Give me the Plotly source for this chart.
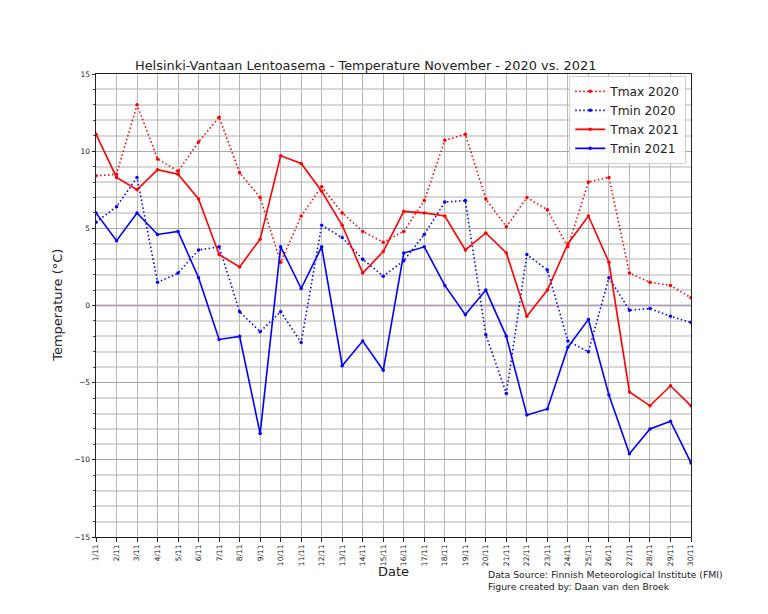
import plotly.graph_objects as go

dates = [f"{d}/11" for d in range(1, 31)]

tmax_2020 = [8.4, 8.5, 13.0, 9.5, 8.7, 10.6, 12.2, 8.6, 7.0, 2.8,
             5.8, 7.7, 6.0, 4.8, 4.1, 4.8, 6.8, 10.7, 11.1, 6.9,
             5.1, 7.0, 6.2, 3.8, 8.0, 8.3, 2.1, 1.5, 1.3, 0.5]
tmin_2020 = [5.4, 6.4, 8.3, 1.5, 2.1, 3.6, 3.8, -0.4, -1.7, -0.4,
             -2.4, 5.2, 4.4, 3.0, 1.9, 2.9, 4.6, 6.7, 6.8, -1.9,
             -5.7, 3.3, 2.3, -2.3, -3.0, 1.8, -0.3, -0.2, -0.7, -1.1]
tmax_2021 = [11.1, 8.3, 7.5, 8.8, 8.5, 6.9, 3.3, 2.5, 4.3, 9.7,
             9.2, 7.4, 5.2, 2.1, 3.5, 6.1, 6.0, 5.8, 3.6, 4.7,
             3.4, -0.7, 1.0, 4.0, 5.8, 2.8, -5.6, -6.5, -5.2, -6.5]
tmin_2021 = [6.0, 4.2, 6.0, 4.6, 4.8, 1.8, -2.2, -2.0, -8.3, 3.8,
             1.1, 3.8, -3.9, -2.3, -4.2, 3.4, 3.8, 1.3, -0.6, 1.0,
             -2.0, -7.1, -6.7, -2.7, -0.9, -5.8, -9.6, -8.0, -7.5, -10.2]

series = [
    ("Tmax 2020", tmax_2020, "red", "1.5px,2.5px"),
    ("Tmin 2020", tmin_2020, "blue", "1.5px,2.5px"),
    ("Tmax 2021", tmax_2021, "red", "solid"),
    ("Tmin 2021", tmin_2021, "blue", "solid"),
]

FONT = "DejaVu Sans"
fig = go.Figure()
for name, vals, color, dash in series:
    fig.add_trace(go.Scatter(
        x=dates, y=vals, name=name, mode="lines+markers",
        line=dict(color=color, width=1.6, dash=dash),
        marker=dict(color=color, size=3.5),
    ))

fig.add_shape(type="line", xref="paper", x0=0, x1=1, yref="y", y0=0, y1=0,
              line=dict(color="#8c4c94", width=1.5), layer="between")

fig.update_layout(
    width=768, height=614,
    margin=dict(l=96, r=77, t=74, b=77),
    paper_bgcolor="white", plot_bgcolor="white",
    font=dict(family=FONT, color="#222"),
    showlegend=True,
    legend=dict(
        x=0.992, y=0.996, xanchor="right", yanchor="top",
        bgcolor="rgba(255,255,255,0.85)", bordercolor="#d0d0d0", borderwidth=1,
        font=dict(size=12.2, family=FONT, color="#222"),
        tracegroupgap=0, itemwidth=30,
    ),
    annotations=[
        dict(text="Helsinki-Vantaan Lentoasema - Temperature November - 2020 vs. 2021",
             x=(365 - 96) / 595, y=(537 - 66) / 463, xref="paper", yref="paper",
             xanchor="center", yanchor="middle", showarrow=False,
             font=dict(size=12.9, family=FONT, color="#222")),
        dict(text="Date", x=0.5, y=-0.075, xref="paper", yref="paper",
             xanchor="center", yanchor="middle", showarrow=False,
             font=dict(size=13, family=FONT, color="#222")),
        dict(text="Temperature (°C)", x=-0.065, y=0.5, xref="paper", yref="paper",
             xanchor="center", yanchor="middle", showarrow=False, textangle=-90,
             font=dict(size=13, family=FONT, color="#222")),
        dict(text="Data Source: Finnish Meteorological Institute (FMI)<br>Figure created by: Daan van den Broek",
             x=(486 - 96) / 595, y=-0.064, xref="paper", yref="paper",
             xanchor="left", yanchor="top", align="left", showarrow=False,
             font=dict(size=9.3, family=FONT, color="#222")),
    ],
)

fig.update_xaxes(
    type="category", range=[0, 29],
    tickangle=-90, tickfont=dict(size=7.5, family=FONT, color="#222"),
    ticks="outside", ticklen=3.5, tickcolor="#222",
    showgrid=True, gridcolor="#b8b8b8", gridwidth=1,
    showline=True, linecolor="#222", linewidth=1, mirror=True,
    zeroline=False,
)
fig.update_yaxes(
    range=[-15, 15], dtick=5, tick0=0,
    tickfont=dict(size=7.5, family=FONT, color="#222"),
    ticks="outside", ticklen=3.5, tickcolor="#222",
    showgrid=True, gridcolor="#a8a8a8", gridwidth=1,
    minor=dict(dtick=1, showgrid=True, gridcolor="#d8d8d8", gridwidth=1.5,
               ticks="outside", ticklen=2, tickcolor="#444"),
    showline=True, linecolor="#222", linewidth=1, mirror=True,
    zeroline=False,
)

fig.write_html("out.html")
